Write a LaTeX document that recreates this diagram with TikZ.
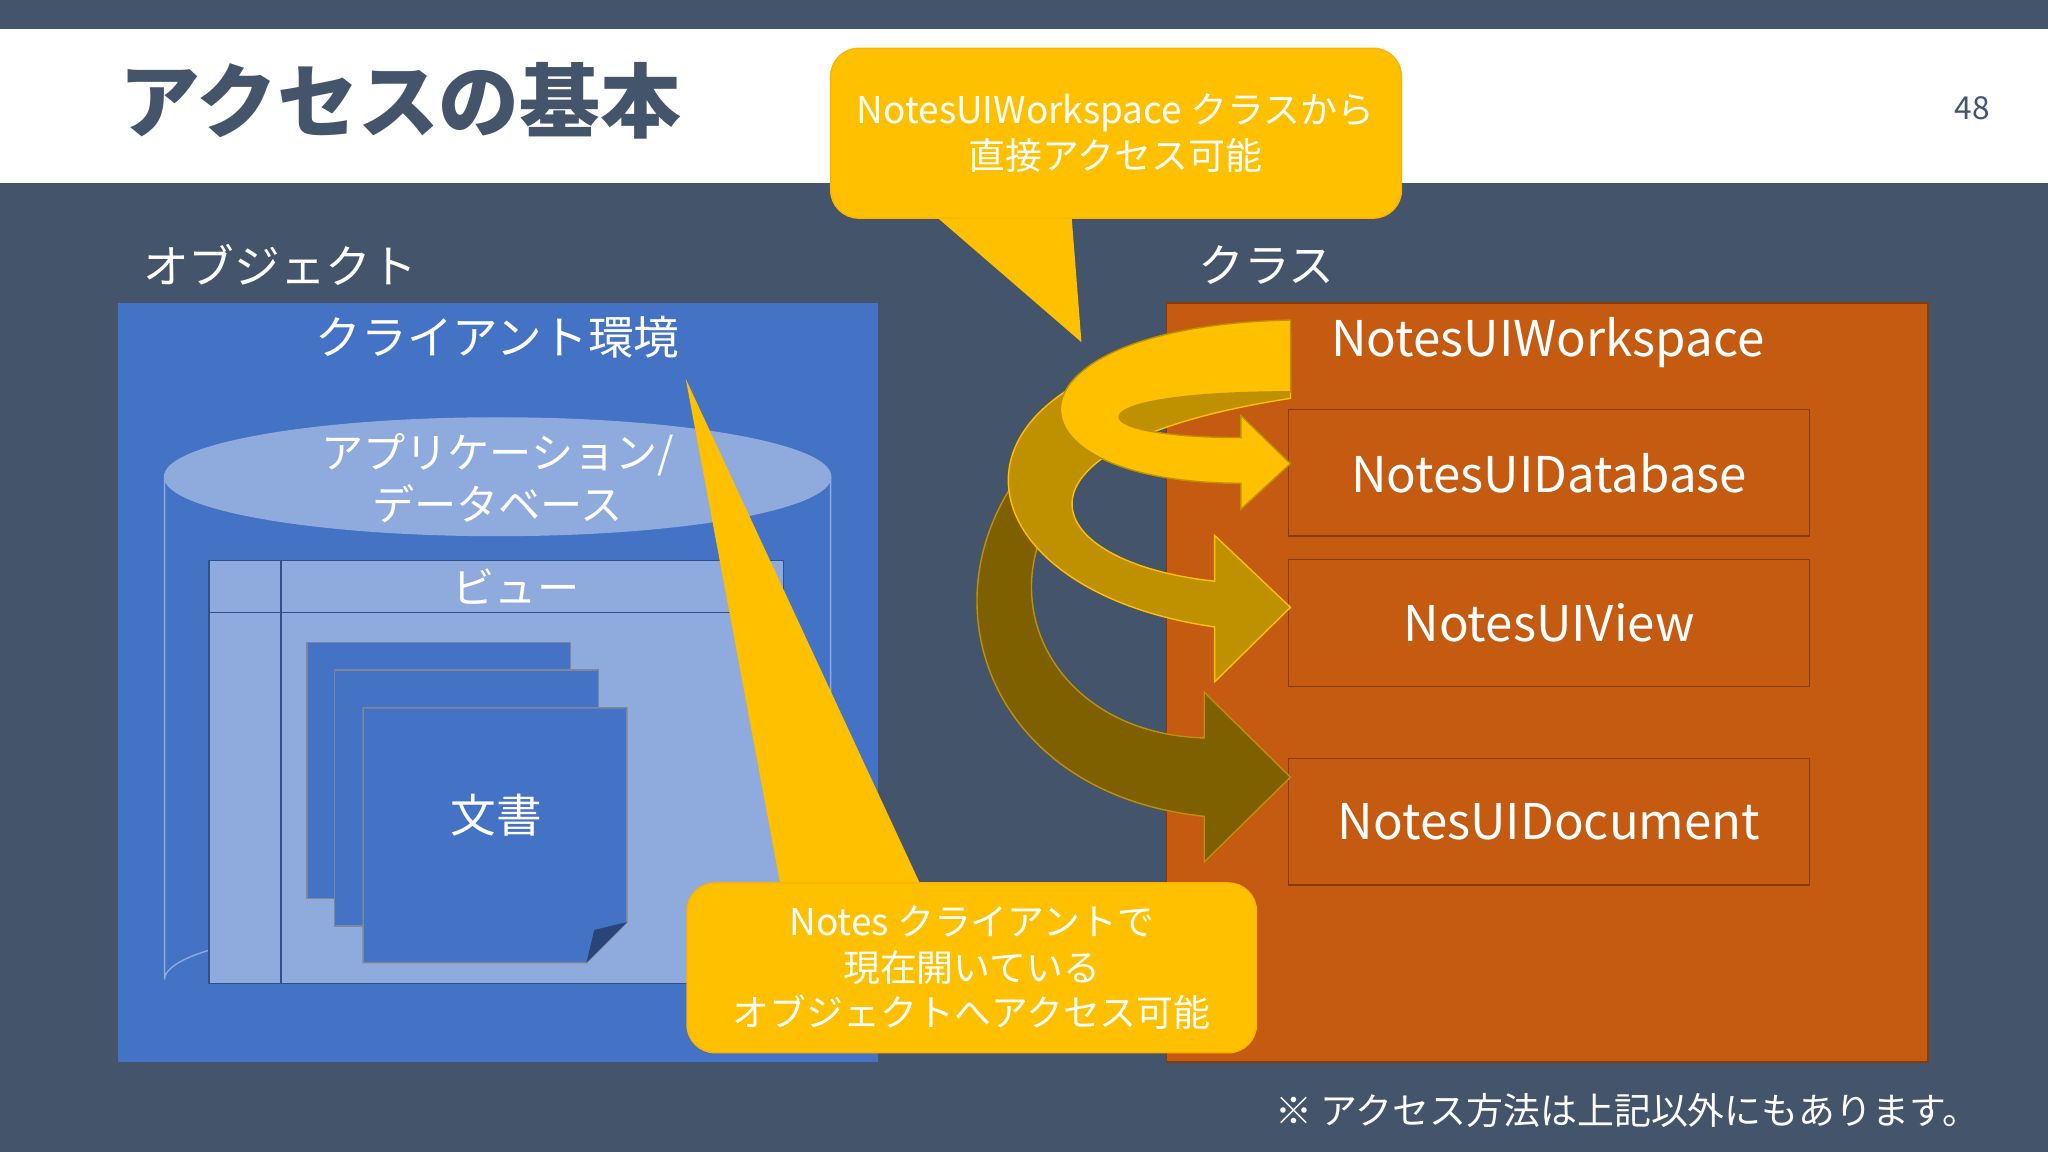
\documentclass[tikz,border=0pt]{standalone}
\usepackage{fontspec}
\setmainfont{Noto Sans CJK JP}
\definecolor{slate}{HTML}{44546A}
\definecolor{bluebox}{HTML}{4472C4}
\definecolor{lightblue}{HTML}{8FAADC}
\definecolor{orangebox}{HTML}{C55A11}
\definecolor{darkorange}{HTML}{843C0C}
\definecolor{gold}{HTML}{FFC000}
\definecolor{goldmid}{HTML}{BF9000}
\definecolor{golddark}{HTML}{7F6000}
\tikzset{
  classbox/.style={draw=darkorange,fill=orangebox,minimum width=399*0.01306cm,minimum height=97*0.01306cm,text=white,font=\fontsize{14}{16}\selectfont},
  callout/.style={fill=gold,draw=gold!80!orange,rounded corners=8pt},
  label/.style={text=white,font=\fontsize{13}{15}\selectfont},
  doc/.style={draw=slate!70,fill=bluebox}
}
\begin{document}
\begin{tikzpicture}[x=0.01306cm,y=-0.01306cm]
    \useasboundingbox (0,0) rectangle (1568,882);
    \fill[slate] (0,0) rectangle (1568,882);
    \fill[white] (0,22) rectangle (1568,140);
    \node[anchor=west,text=slate,font=\fontsize{23}{26}\selectfont\bfseries] (title) at (82,77) {アクセスの基本};
    \node[text=slate,font=\fontsize{9}{10}\selectfont] (page) at (1510,83) {48};

    % left side
    \node[label,anchor=west] (obj) at (100,203) {オブジェクト};
    \fill[bluebox] (90,232) rectangle (672,813);
    \node[label] (env) at (381,258) {クライアント環境};
    \draw[lightblue,fill=bluebox] (126,365) -- (126,750) arc[start angle=180,end angle=360,x radius=255,y radius=45] -- (636,365);
    \draw[bluebox!60!white,fill=lightblue] (381,365) ellipse[x radius=255,y radius=45];
    \node[label,align=center,font=\fontsize{12}{15}\selectfont] (app) at (381,366) {アプリケーション/\\データベース};
    \draw[bluebox!70!black,fill=lightblue] (160,429) rectangle (600,753);
    \draw[bluebox!70!black] (160,469) -- (600,469) (215,429) -- (215,753);
    \node[label,font=\fontsize{12}{14}\selectfont] (view) at (395,449) {ビュー};
    \draw[doc] (235,492) rectangle (437,688);
    \draw[doc] (256,513) rectangle (458,709);
    \draw[doc] (278,542) -- (480,542) -- (480,706) -- (449,737) -- (278,737) -- cycle;
    \fill[bluebox!60!black] (480,706) -- (455,712) -- (449,737) -- cycle;
    \node[label] (doctext) at (380,624) {文書};

    % right side
    \node[label,anchor=west] (cls) at (908,203) {クラス};
    \fill[orangebox] (893,232) rectangle (1476,813);
    \draw[darkorange] (893,232) rectangle (1476,813);
    \node[text=white,font=\fontsize{14}{16}\selectfont] (ws) at (1185,262) {NotesUIWorkspace};
    \node[classbox] (db) at (1186,362) {NotesUIDatabase};
    \node[classbox] (vw) at (1186,477) {NotesUIView};
    \node[classbox] (dc) at (1186,629) {NotesUIDocument};

    % curved arrows
    \draw[fill=golddark,draw=goldmid] (988,265) .. controls (680,290) and (680,600) .. (922,625) -- (922,660) -- (988,595) -- (922,530) -- (922,565) .. controls (750,560) and (720,330) .. (988,300) -- cycle;
    \draw[fill=goldmid,draw=gold] (988,255) .. controls (700,270) and (720,450) .. (930,480) -- (930,522) -- (988,465) -- (930,410) -- (930,445) .. controls (790,430) and (760,340) .. (988,305) -- cycle;
    \draw[fill=gold,draw=goldmid] (988,245) .. controls (760,250) and (760,370) .. (950,370) -- (950,390) -- (988,355) -- (950,318) -- (950,335) .. controls (820,335) and (820,300) .. (988,300) -- cycle;

    % callouts
    \fill[gold] (525,290) -- (598,680) -- (706,680) -- cycle;
    \draw[callout] (526,676) rectangle (962,806);
    \fill[gold] (828,262) -- (710,160) -- (820,160) -- cycle;
    \draw[callout] (636,37) rectangle (1073,167);
    \node[text=white,align=center,font=\fontsize{10.5}{13}\selectfont] (note1) at (744,741) {Notes クライアントで\\現在開いている\\オブジェクトへアクセス可能};
    \node[text=white,align=center,font=\fontsize{10.5}{13}\selectfont] (note2) at (854,102) {NotesUIWorkspace クラスから\\直接アクセス可能};

    \node[text=white,anchor=east,font=\fontsize{10.5}{12}\selectfont] (foot) at (1525,850) {※ アクセス方法は上記以外にもあります。};
\end{tikzpicture}
\end{document}
